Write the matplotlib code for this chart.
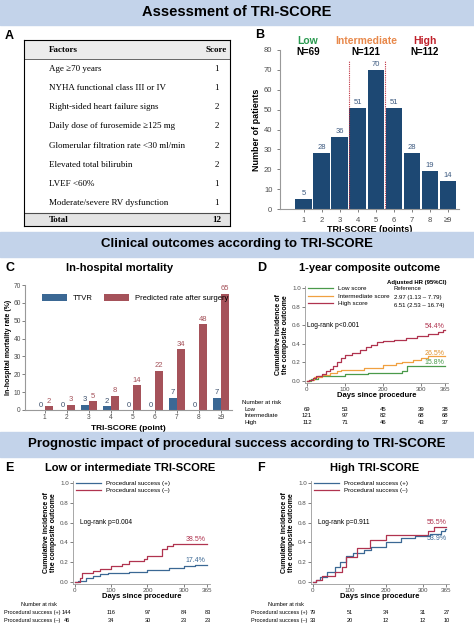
import matplotlib
matplotlib.use('Agg')
import matplotlib.pyplot as plt
from matplotlib.patches import Rectangle
from matplotlib.transforms import blended_transform_factory

plt.rcParams['font.family'] = ['Liberation Sans', 'DejaVu Sans']

W, H = 474, 623

# ---- data ----
factors = ['Age \u226570 years', 'NYHA functional class III or IV', 'Right-sided heart failure signs',
           'Daily dose of furosemide \u2265125 mg', 'Glomerular filtration rate <30 ml/min',
           'Elevated total bilirubin', 'LVEF <60%', 'Moderate/severe RV dysfunction']
factor_scores = [1, 1, 2, 2, 2, 2, 1, 1]

score_labels = ['1', '2', '3', '4', '5', '6', '7', '8', '\u22659']
patients = [5, 28, 36, 51, 70, 51, 28, 19, 14]

ttvr = [0, 0, 3, 2, 0, 0, 7, 0, 7]
predicted = [2, 3, 5, 8, 14, 22, 34, 48, 65]

d_low_t = [0, 10, 30, 45, 100, 160, 250, 265, 365]
d_low_y = [0, 0.02, 0.05, 0.06, 0.08, 0.09, 0.11, 0.158, 0.158]
d_int_t = [0, 5, 20, 40, 60, 80, 90, 150, 200, 235, 250, 280, 300, 320, 365]
d_int_y = [0, 0.01, 0.04, 0.07, 0.09, 0.11, 0.12, 0.14, 0.17, 0.19, 0.21, 0.23, 0.25, 0.265, 0.265]
d_high_t = [0, 5, 15, 25, 40, 50, 60, 70, 80, 90, 100, 120, 140, 155, 170, 185, 200, 230, 260, 290,
            320, 345, 360, 365]
d_high_y = [0, 0.01, 0.03, 0.05, 0.08, 0.11, 0.13, 0.16, 0.2, 0.25, 0.28, 0.3, 0.33, 0.37, 0.39,
            0.42, 0.43, 0.44, 0.46, 0.48, 0.5, 0.53, 0.544, 0.544]
d_risk = {'Low': [69, 53, 45, 39, 38], 'Intermediate': [121, 97, 82, 68, 68],
          'High': [112, 71, 46, 43, 37]}

e_pos_t = [0, 10, 30, 50, 70, 90, 150, 200, 260, 300, 330, 365]
e_pos_y = [0, 0.01, 0.04, 0.06, 0.08, 0.09, 0.1, 0.12, 0.14, 0.16, 0.174, 0.174]
e_neg_t = [0, 15, 20, 50, 70, 100, 130, 150, 190, 200, 240, 255, 270, 365]
e_neg_y = [0, 0.04, 0.09, 0.11, 0.13, 0.16, 0.18, 0.21, 0.23, 0.26, 0.33, 0.36, 0.385, 0.385]
e_risk = [[144, 116, 97, 84, 83], [46, 34, 30, 23, 23]]

f_pos_t = [0, 10, 20, 40, 60, 75, 90, 110, 140, 160, 200, 240, 280, 320, 350, 360, 365]
f_pos_y = [0, 0.02, 0.05, 0.1, 0.15, 0.2, 0.26, 0.29, 0.32, 0.35, 0.4, 0.44, 0.46, 0.48, 0.52,
           0.539, 0.539]
f_neg_t = [0, 10, 25, 60, 80, 90, 120, 155, 200, 300, 315, 330, 365]
f_neg_y = [0, 0.02, 0.06, 0.1, 0.15, 0.25, 0.34, 0.42, 0.47, 0.47, 0.52, 0.555, 0.555]
f_risk = [[79, 51, 34, 31, 27], [33, 20, 12, 12, 10]]

risk_times = [0, 100, 200, 300, 365]

NAVY = '#1d4873'
BLUE = '#3b6894'
RED = '#a5525a'
GREEN = '#4a9a4a'
ORANGE = '#f0a040'
KMRED = '#b0334f'
BANNER = '#c3d3ea'

fig = plt.figure(figsize=(W / 100, H / 100), dpi=100)


def px_axes(x0, y0, x1, y1):
    return fig.add_axes([x0 / W, 1 - y1 / H, (x1 - x0) / W, (y1 - y0) / H])


def ftext(x, y, s, **kw):
    fig.text(x / W, 1 - y / H, s, **kw)


def banner(y0, y1, s, size):
    fig.patches.append(Rectangle((0, 1 - y1 / H), 1, (y1 - y0) / H, transform=fig.transFigure,
                                 color=BANNER, zorder=0))
    ftext(W / 2, (y0 + y1) / 2, s, ha='center', va='center', fontsize=size, fontweight='bold')


banner(0, 25, 'Assessment of TRI-SCORE', 10.5)
banner(232, 257, 'Clinical outcomes according to TRI-SCORE', 9.5)
banner(432, 457, 'Prognostic impact of procedural success according to TRI-SCORE', 9.5)

for lab, x, y in [('A', 5, 36), ('B', 255, 35), ('C', 5, 268), ('D', 257, 268),
                  ('E', 5, 468), ('F', 257, 468)]:
    ftext(x, y, lab, ha='left', va='center', fontsize=9, fontweight='bold')

# ---- A: table ----
axA = px_axes(24, 40, 230, 226)
axA.set_xlim(0, 1)
axA.set_ylim(0, 1)
axA.set_xticks([])
axA.set_yticks([])
for s in axA.spines.values():
    s.set_linewidth(0.8)
nrows = len(factors)
hh = 19 / 186
axA.add_patch(Rectangle((0, 1 - hh), 1, hh, color='#ececec', lw=0))
axA.add_patch(Rectangle((0, 0), 1, 13 / 186, color='#e4e4e4', lw=0))
axA.axhline(1 - hh, color='0.3', lw=0.6)
axA.axhline(13 / 186, color='0.3', lw=0.8)
serif = ['Liberation Serif', 'DejaVu Serif']
axA.text(0.12, 1 - hh / 2, 'Factors', va='center', fontsize=6.5, fontweight='bold', family=serif)
axA.text(0.935, 1 - hh / 2, 'Score', va='center', ha='center', fontsize=6.5, fontweight='bold',
         family=serif)
rh = (1 - hh - 13 / 186) / nrows
for i, (f, sc) in enumerate(zip(factors, factor_scores)):
    yy = 1 - hh - rh * (i + 0.5)
    axA.text(0.12, yy, f, va='center', fontsize=6.5, family=serif)
    axA.text(0.935, yy, str(sc), va='center', ha='center', fontsize=6.5, family=serif)
axA.text(0.12, 6.5 / 186, 'Total', va='center', fontsize=6.5, fontweight='bold', family=serif)
axA.text(0.935, 6.5 / 186, str(sum(factor_scores)), va='center', ha='center', fontsize=6.5,
         fontweight='bold', family=serif)

# ---- B: histogram ----
axB = px_axes(280, 50, 459, 209)
xs = list(range(len(patients)))
axB.bar(xs, patients, width=0.92, color=NAVY)
for x, v in zip(xs, patients):
    axB.text(x, v + 1, str(v), ha='center', va='bottom', fontsize=5.5, color='#3d5a80')
for xl in (2.5, 4.5):
    axB.axvline(xl, ymin=0, ymax=0.93, color='#c03040', ls=(0, (1, 1)), lw=0.8)
axB.set_xlim(-1.3, 8.6)
axB.set_ylim(0, 80)
axB.set_yticks(range(0, 81, 10))
axB.set_xticks(xs, score_labels)
axB.tick_params(labelsize=5.5, length=2, width=0.5, colors='0.3')
axB.set_ylabel('Number of patients', fontsize=6.5, fontweight='bold', labelpad=2)
axB.set_xlabel('TRI-SCORE (points)', fontsize=6.5, fontweight='bold', labelpad=1)
for s in ('top', 'right'):
    axB.spines[s].set_visible(False)
for s in ('left', 'bottom'):
    axB.spines[s].set_color('0.6')
for gx, name, col, n in [(308, 'Low', '#2a9a50', 'N=69'), (366, 'Intermediate', '#e8884a', 'N=121'),
                         (425, 'High', '#c0202a', 'N=112')]:
    ftext(gx, 41, name, ha='center', va='center', fontsize=7.5, fontweight='bold', color=col)
    ftext(gx, 52, n, ha='center', va='center', fontsize=7, fontweight='bold')

# ---- C: in-hospital mortality ----
ftext(120, 268, 'In-hospital mortality', ha='center', va='center', fontsize=8, fontweight='bold')
axC = px_axes(25, 285, 232, 410)
bw = 0.36
xt = [x - bw / 2 for x in xs]
xp = [x + bw / 2 for x in xs]
axC.bar(xt, ttvr, width=bw, color=BLUE, label='TTVR')
axC.bar(xp, predicted, width=bw, color=RED, label='Predicted rate after surgery')
for x, v in zip(xt, ttvr):
    axC.text(x, v + 0.8, str(v), ha='center', va='bottom', fontsize=5.5, color='#3b4f6b')
for x, v in zip(xp, predicted):
    axC.text(x, v + 0.8, str(v), ha='center', va='bottom', fontsize=5.5, color=RED)
axC.set_ylim(0, 70)
axC.set_xlim(-0.9, 8.5)
axC.set_yticks(range(0, 71, 10))
axC.set_xticks(xs, score_labels)
axC.tick_params(labelsize=4.8, length=2, width=0.5, colors='0.3', pad=1)
axC.set_ylabel('In-hospital mortality rate (%)', fontsize=5, fontweight='bold', labelpad=1)
axC.set_xlabel('TRI-SCORE (point)', fontsize=6, fontweight='bold', labelpad=3)
axC.legend(loc='upper left', ncol=2, frameon=False, fontsize=5.5, handlelength=3.2,
           handleheight=0.9, columnspacing=1.5, bbox_to_anchor=(0.05, 0.98))
for s in ('top', 'right'):
    axC.spines[s].set_visible(False)
for s in ('left', 'bottom'):
    axC.spines[s].set_color('0.6')


def km_axes(box):
    ax = px_axes(*box)
    ax.set_xlim(-5, 372)
    ax.set_ylim(-0.02, 1.02)
    ax.set_xticks([0, 100, 200, 300, 365])
    ax.set_yticks([0, 0.2, 0.4, 0.6, 0.8, 1.0], ['0.0', '0.2', '0.4', '0.6', '0.8', '1.0'])
    ax.tick_params(labelsize=4.5, length=2, width=0.5, colors='0.3', pad=1)
    ax.set_ylabel('Cumulative incidence of\nthe composite outcome', fontsize=5, fontweight='bold',
                  labelpad=2, linespacing=1.0)
    ax.set_xlabel('Days since procedure', fontsize=5.5, fontweight='bold', labelpad=0)
    for s in ('top', 'right'):
        ax.spines[s].set_visible(False)
    for s in ('left', 'bottom'):
        ax.spines[s].set_color('0.6')
        ax.spines[s].set_linewidth(0.6)
    return ax


def risk_table(ax, rows, names, label_x, y0, dy, first_x=0, size=4.3):
    tr = blended_transform_factory(ax.transData, ax.transAxes)
    ax.text(label_x[0], y0, 'Number at risk', transform=tr, fontsize=size, ha=label_x[2],
            va='center', clip_on=False)
    for i, (name, vals) in enumerate(zip(names, rows)):
        yy = y0 - dy * (i + 1)
        ax.text(label_x[1], yy, name, transform=tr, fontsize=size, ha=label_x[2], va='center',
                clip_on=False)
        for j, (t, v) in enumerate(zip(risk_times, vals)):
            ax.text(first_x if j == 0 else t, yy, str(v), transform=tr, fontsize=size,
                    ha='center', va='center', clip_on=False)


# ---- D ----
ftext(370, 268, '1-year composite outcome', ha='center', va='center', fontsize=8,
      fontweight='bold')
axD = km_axes((305, 286, 448, 383))
axD.step(d_low_t, d_low_y, where='post', color=GREEN, lw=0.9, label='Low score')
axD.step(d_int_t, d_int_y, where='post', color=ORANGE, lw=0.9, label='Intermediate score')
axD.step(d_high_t, d_high_y, where='post', color=KMRED, lw=0.9, label='High score')
axD.legend(loc='upper left', frameon=False, fontsize=4.5, handlelength=4, labelspacing=0.35,
           bbox_to_anchor=(-0.02, 1.06))
axD.text(0.78, 1.04, 'Adjusted HR (95%CI)', transform=axD.transAxes, fontsize=4.3,
         fontweight='bold', ha='center', va='center')
for k, s in enumerate(['Reference', '2.97 (1.13 \u2013 7.79)', '6.51 (2.53 \u2013 16.74)']):
    axD.text(0.62, 0.97 - 0.085 * k, s, transform=axD.transAxes, fontsize=4.3, va='center')
axD.text(0, 0.6, 'Log-rank p<0.001', fontsize=4.8, va='center')
axD.text(363, 0.585, '54.4%', color=KMRED, fontsize=5, ha='right', va='center')
axD.text(363, 0.30, '26.5%', color='#e0902a', fontsize=5, ha='right', va='center')
axD.text(363, 0.20, '15.8%', color=GREEN, fontsize=5, ha='right', va='center')
risk_table(axD, list(d_risk.values()), ['Low', 'Intermediate', 'High'], (-170, -165, 'left'),
           -0.2, 0.07)

# ---- E ----
ftext(130, 468, 'Low or intermediate TRI-SCORE', ha='center', va='center', fontsize=8,
      fontweight='bold')
axE = km_axes((73, 481, 210, 584))
axE.step(e_pos_t, e_pos_y, where='post', color=BLUE, lw=0.9, label='Procedural success (+)')
axE.step(e_neg_t, e_neg_y, where='post', color=KMRED, lw=0.9, label='Procedural success (\u2013)')
axE.legend(loc='upper left', frameon=False, fontsize=4.5, handlelength=4, labelspacing=0.35,
           bbox_to_anchor=(-0.02, 1.06))
axE.text(15, 0.6, 'Log-rank p=0.004', fontsize=4.8, va='center')
axE.text(360, 0.425, '38.5%', color=KMRED, fontsize=5, ha='right', va='center')
axE.text(360, 0.215, '17.4%', color=BLUE, fontsize=5, ha='right', va='center')
risk_table(axE, e_risk, ['Procedural success (+)', 'Procedural success (\u2013)'],
           (-50, -40, 'right'), -0.2, 0.075, first_x=-22, size=4.0)

# ---- F ----
ftext(375, 468, 'High TRI-SCORE', ha='center', va='center', fontsize=8, fontweight='bold')
axF = km_axes((311, 481, 449, 584))
axF.step(f_pos_t, f_pos_y, where='post', color=BLUE, lw=0.9, label='Procedural success (+)')
axF.step(f_neg_t, f_neg_y, where='post', color=KMRED, lw=0.9, label='Procedural success (\u2013)')
axF.legend(loc='upper left', frameon=False, fontsize=4.5, handlelength=4, labelspacing=0.35,
           bbox_to_anchor=(-0.02, 1.06))
axF.text(15, 0.6, 'Log-rank p=0.911', fontsize=4.8, va='center')
axF.text(365, 0.60, '55.5%', color=KMRED, fontsize=5, ha='right', va='center')
axF.text(365, 0.44, '53.9%', color=BLUE, fontsize=5, ha='right', va='center')
risk_table(axF, f_risk, ['Procedural success (+)', 'Procedural success (\u2013)'],
           (-25, -15, 'right'), -0.2, 0.075, first_x=0, size=4.0)

fig.savefig('out.png', dpi=100)
